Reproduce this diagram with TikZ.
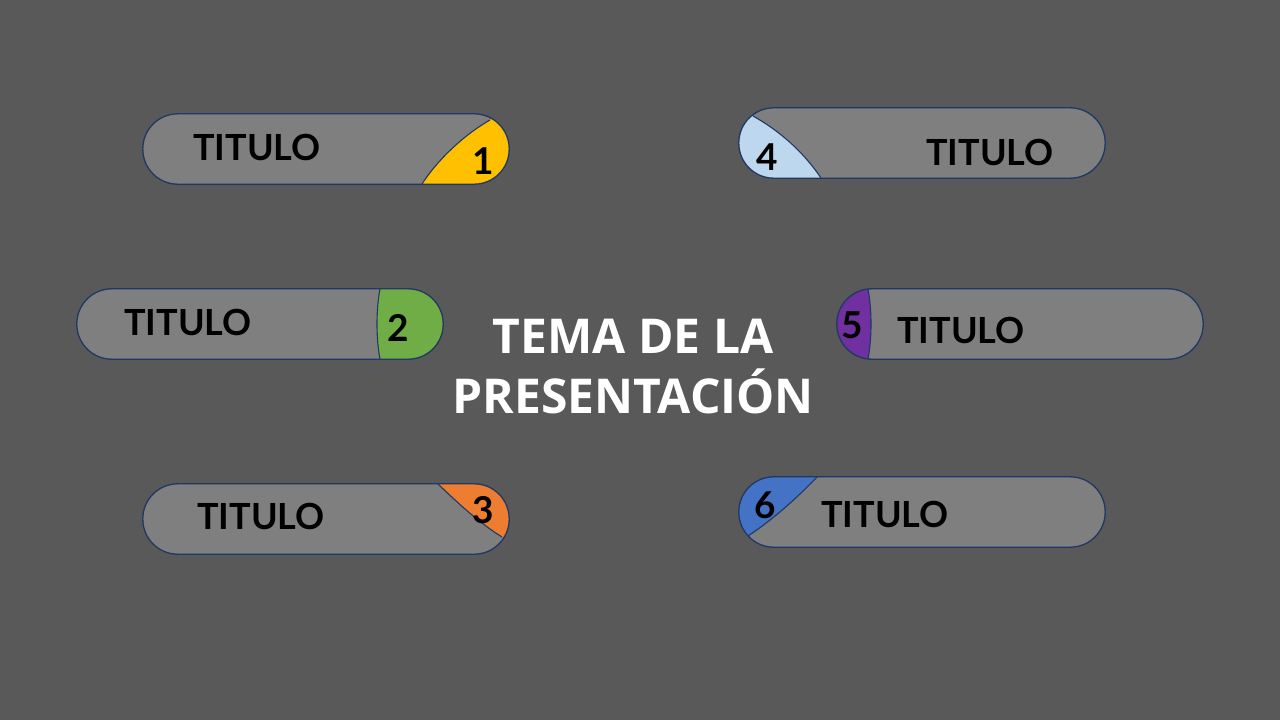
\documentclass[tikz,border=0pt]{standalone}
\usepackage{fontspec}
\setmainfont{Open Sans}
\newfontfamily\titfont{Lato}
\usepackage{tikz}
\usepackage{xcolor}

\definecolor{bggray}{HTML}{595959}
\definecolor{pillgray}{HTML}{7F7F7F}
\definecolor{pillline}{HTML}{1F3864}
\definecolor{segyellow}{HTML}{FFC000}
\definecolor{seggreen}{HTML}{70AD47}
\definecolor{segorange}{HTML}{ED7D31}
\definecolor{seglight}{HTML}{BDD7EE}
\definecolor{segpurple}{HTML}{7030A0}
\definecolor{segblue}{HTML}{4472C4}

\begin{document}
\begin{tikzpicture}[x=1pt,y=-1pt,
  pill/.style={fill=pillgray,rounded corners=35pt,inner sep=0pt,minimum width=366pt,minimum height=70pt},
  pilledge/.style={draw=pillline,line width=1.3pt,rounded corners=35pt},
  cut/.style={draw=pillline,line width=1.1pt},
  titulo/.style={anchor=base west,inner sep=0pt,text=black,font=\titfont\bfseries\fontsize{36}{40}\selectfont},
  numero/.style={anchor=base,inner sep=0pt,text=black,font=\titfont\bfseries\fontsize{37}{40}\selectfont}]
\useasboundingbox (0,0) rectangle (1280,720);
\fill[bggray] (0,0) rectangle (1280,720);

\node[pill] (p1) at (326,149) {};
\begin{scope}
\clip[rounded corners=35pt] (p1.south west) rectangle (p1.north east);
\fill[segyellow] (422,184) .. controls (436,162) and (462,136) .. (490,120) -- (520,100) -- (520,200) -- cycle;
\draw[cut] (422,184) .. controls (436,162) and (462,136) .. (490,120);
\end{scope}
\draw[pilledge] (p1.south west) rectangle (p1.north east);
\node[titulo] (t1) at (193,160) {TITULO};
\node[numero] (n1) at (483,174) {1};

\node[pill] (p2) at (260,324) {};
\begin{scope}
\clip[rounded corners=35pt] (p2.south west) rectangle (p2.north east);
\fill[seggreen] (380,289) .. controls (376,310) and (376,338) .. (380,359) -- (450,359) -- (450,289) -- cycle;
\draw[cut] (380,289) .. controls (376,310) and (376,338) .. (380,359);
\end{scope}
\draw[pilledge] (p2.south west) rectangle (p2.north east);
\node[titulo] (t2) at (124,335) {TITULO};
\node[numero] (n2) at (398,341) {2};

\node[pill] (p3) at (326,519) {};
\begin{scope}
\clip[rounded corners=35pt] (p3.south west) rectangle (p3.north east);
\fill[segorange] (438,484) .. controls (458,503) and (478,522) .. (502,537) -- (520,545) -- (520,470) -- cycle;
\draw[cut] (438,484) .. controls (458,503) and (478,522) .. (502,537);
\end{scope}
\draw[pilledge] (p3.south west) rectangle (p3.north east);
\node[titulo] (t3) at (197,529) {TITULO};
\node[numero] (n3) at (483,523) {3};

\node[pill] (p4) at (922,143) {};
\begin{scope}
\clip[rounded corners=35pt] (p4.south west) rectangle (p4.north east);
\fill[seglight] (753,116) .. controls (778,130) and (802,150) .. (821,178) -- (730,190) -- (730,100) -- cycle;
\draw[cut] (753,116) .. controls (778,130) and (802,150) .. (821,178);
\end{scope}
\draw[pilledge] (p4.south west) rectangle (p4.north east);
\node[titulo] (t4) at (926,165) {TITULO};
\node[numero] (n4) at (767,170) {4};

\node[pill] (p5) at (1020,324) {};
\begin{scope}
\clip[rounded corners=35pt] (p5.south west) rectangle (p5.north east);
\fill[segpurple] (868,289) .. controls (872,310) and (872,338) .. (868,359) -- (830,359) -- (830,289) -- cycle;
\draw[cut] (868,289) .. controls (872,310) and (872,338) .. (868,359);
\end{scope}
\draw[pilledge] (p5.south west) rectangle (p5.north east);
\node[titulo] (t5) at (897,343) {TITULO};
\node[numero] (n5) at (852,338) {5};

\node[pill] (p6) at (922,512) {};
\begin{scope}
\clip[rounded corners=35pt] (p6.south west) rectangle (p6.north east);
\fill[segblue] (817,477) .. controls (795,500) and (772,520) .. (748,536) -- (730,545) -- (730,470) -- cycle;
\draw[cut] (817,477) .. controls (795,500) and (772,520) .. (748,536);
\end{scope}
\draw[pilledge] (p6.south west) rectangle (p6.north east);
\node[titulo] (t6) at (821,527) {TITULO};
\node[numero] (n6) at (765,518) {6};

\node[inner sep=0pt,text=white,align=center,font=\bfseries\fontsize{48}{60}\selectfont] (tema) at (633,367) {TEMA DE LA\\PRESENTACIÓN};
\end{tikzpicture}
\end{document}
